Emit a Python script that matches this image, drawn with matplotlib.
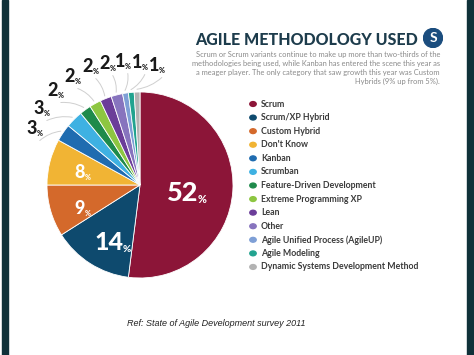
import matplotlib
matplotlib.use("Agg")
import matplotlib.pyplot as plt
import numpy as np
from matplotlib.patches import Rectangle, Circle

categories = ["Scrum", "Scrum/XP Hybrid", "Custom Hybrid", "Don't Know", "Kanban",
              "Scrumban", "Feature-Driven Development", "Extreme Programming XP",
              "Lean", "Other", "Agile Unified Process (AgileUP)", "Agile Modeling",
              "Dynamic Systems Development Method"]
values = [52, 14, 9, 8, 3, 3, 2, 2, 2, 2, 1, 1, 1]
colors = ["#8c1538", "#0e4a6e", "#d4692b", "#f1b434", "#1f6cb0", "#3eb1e2",
          "#1e8a4b", "#8dc641", "#6b3d99", "#8774be", "#7e9fd6", "#22a38f", "#b3b3b3"]

title = "AGILE METHODOLOGY USED"
subtitle_lines = ["Scrum or Scrum variants continue to make up more than two-thirds of the",
                  "methodologies being used, while Kanban has entered the scene this year as",
                  "a meager player. The only category that saw growth this year was Custom",
                  "Hybrids (9% up from 5%)."]
ref_text = "Ref: State of Agile Development survey 2011"

W, H = 474, 355
fig = plt.figure(figsize=(W / 100, H / 100), dpi=100)
fig.patch.set_facecolor("white")

def fx(px):
    return px / W

def fy(py):
    return 1 - py / H

# borders
fig.add_artist(Rectangle((fx(2), 0), fx(6), 1, transform=fig.transFigure, color="#0f3139", zorder=0))
fig.add_artist(Rectangle((fx(467), 0), fx(7), 1, transform=fig.transFigure, color="#0f3139", zorder=0))

# pie axes
cx, cy, R = 140, 185, 93
ax = fig.add_axes([fx(cx - R), fy(cy + R), 2 * R / W, 2 * R / H])
wedges, _ = ax.pie(values, colors=colors, startangle=90, counterclock=False, radius=1,
                   wedgeprops=dict(edgecolor="white", linewidth=0.6))
ax.set_xlim(-1, 1)
ax.set_ylim(-1, 1)
ax.axis("off")

def pct_label(x, y, num, size, color):
    t = ax.text(x, y, str(num), fontsize=size, ha="right", va="baseline", color=color,
                family="Lato", fontweight="black", transform=ax.transData, clip_on=False)
    ax.annotate("%", xy=(1.0, 0.0), xycoords=t, fontsize=size * 0.4, ha="left", va="bottom",
                color=color, family="Lato", fontweight="black", annotation_clip=False)
    return t

def px2d(px, py):
    return (px - cx) / R, (cy - py) / R

# inside labels (pixel anchor = right edge of number, baseline)
inside = {0: (198, 201, 19.5), 1: (123, 250, 18), 2: (85, 214, 13), 3: (85, 178, 13)}
for i, (px, py, s) in inside.items():
    x, y = px2d(px, py)
    pct_label(x, y, values[i], s, "white")

# outside labels
outside_pos = {4: (37, 134), 5: (44, 114), 6: (58, 96), 7: (75, 82), 8: (93, 72),
               9: (110, 69), 10: (125, 67), 11: (142, 68), 12: (159, 71)}
cum = np.cumsum([0] + values)
total = sum(values)
for i, (px, py) in outside_pos.items():
    mid = (cum[i] + cum[i + 1]) / 2 / total
    ang = np.deg2rad(90 - mid * 360)
    ex, ey = 1.03 * np.cos(ang), 1.03 * np.sin(ang)
    x, y = px2d(px, py)
    t = pct_label(x, y, values[i], 13, "#1a1a1a")
    ax.annotate("", xy=(ex, ey), xytext=(x + 0.03, y - 0.07),
                arrowprops=dict(arrowstyle="-", color="#cfcfcf", lw=0.7,
                                connectionstyle="arc3,rad=-0.15", shrinkA=0, shrinkB=0),
                annotation_clip=False)

# title
fig.text(fx(418), fy(40), title, ha="right", va="center", fontsize=11.5, fontweight="black",
         family="Lato", color="#1d3c4c")
icon_ax = fig.add_axes([fx(423), fy(48), 20 / W, 20 / H])
icon_ax.set_xlim(-1, 1); icon_ax.set_ylim(-1, 1); icon_ax.axis("off")
icon_ax.add_patch(Circle((0, 0), 0.95, color="#1b4d7e"))
icon_ax.text(0, -0.05, "S", ha="center", va="center", color="white", fontsize=10,
             fontweight="bold", family="Lato")

for k, line in enumerate(subtitle_lines):
    fig.text(fx(440), fy(54 + 9 * k), line, ha="right", va="center", fontsize=5.4,
             color="#8a8a8a", family="Lato")

# legend
for k, (lab, col) in enumerate(zip(categories, colors)):
    yy = 104 + 13.58 * k
    fig.add_artist(Circle((fx(253), fy(yy)), 3.2 / W, transform=fig.transFigure, color=col))
    fig.text(fx(261), fy(yy), lab, ha="left", va="center", fontsize=6.3, fontweight="bold",
             family="Lato", color="#3a3a3a")

fig.text(fx(127), fy(324), ref_text, ha="left", va="center", fontsize=6.5, style="italic",
         family="Liberation Sans", color="#222222")

fig.savefig("out.png", dpi=100, facecolor="white")
